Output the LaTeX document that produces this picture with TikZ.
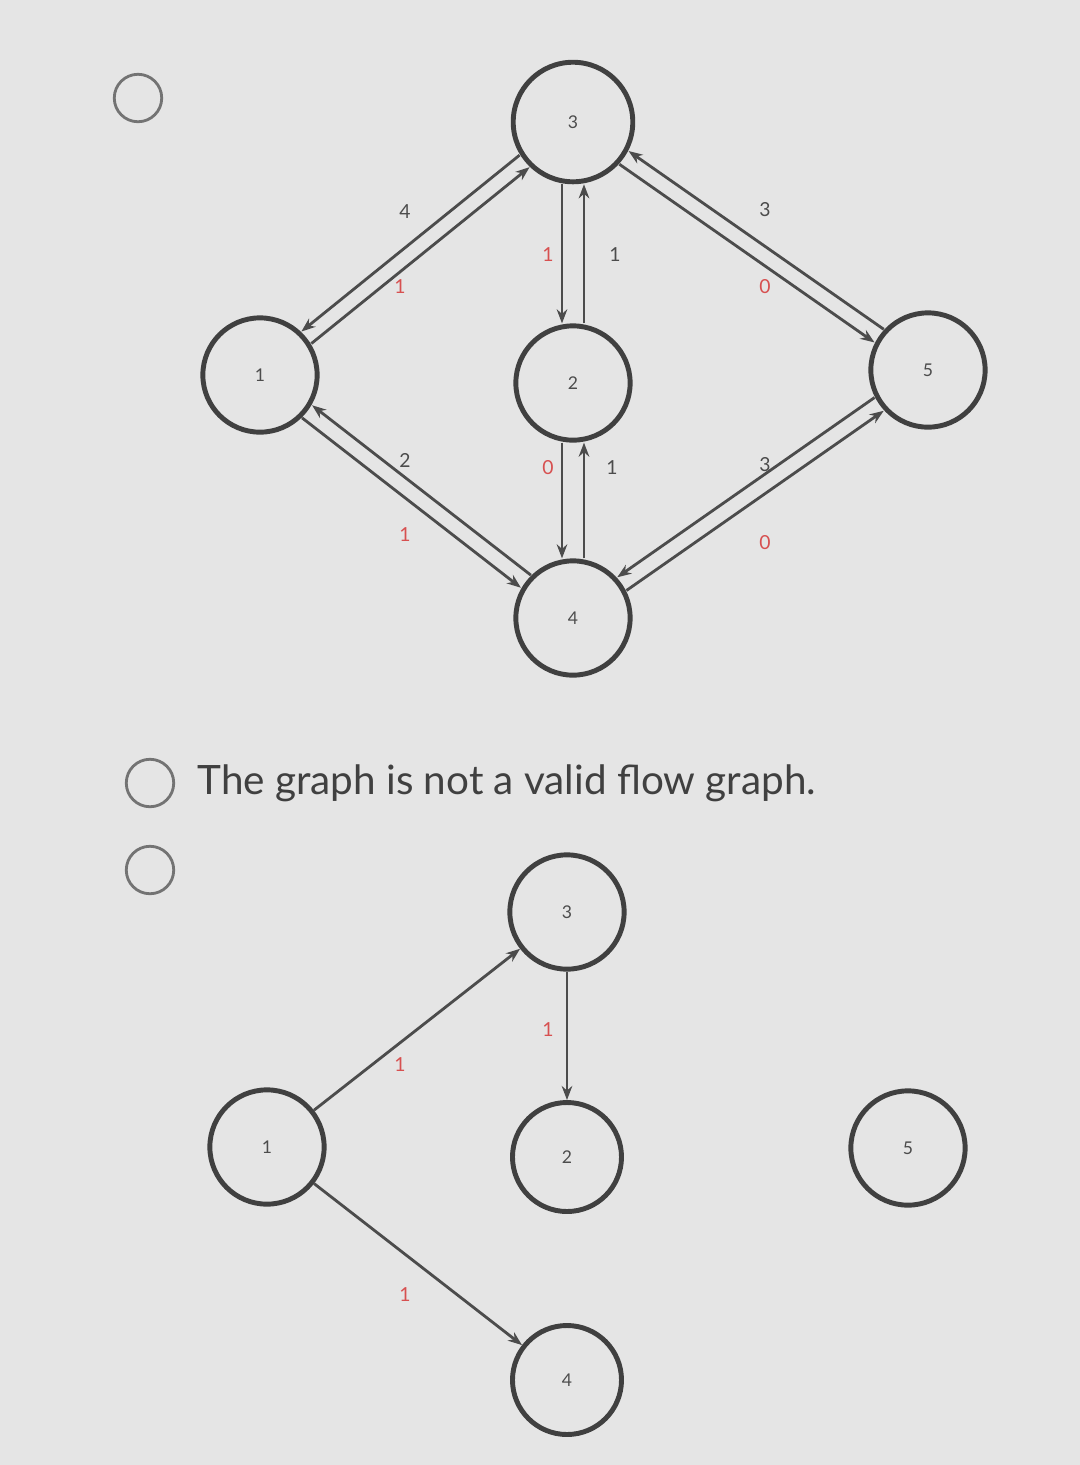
\documentclass[tikz,border=0pt]{standalone}
\usepackage{fontspec}
\setmainfont{Lato}
\usetikzlibrary{arrows.meta}
\begin{document}
\begin{tikzpicture}[x=0.01cm,y=-0.01cm,
 vtx/.style={circle,draw=black!75,line width=1.4pt,minimum size=32.5pt,inner sep=0,font=\fontsize{5}{6}\selectfont,text=black!70},
 radio/.style={circle,draw=black!55,line width=0.8pt,minimum size=13.5pt,inner sep=0},
 arr/.style={draw=black!70,line width=0.8pt,-{Stealth[length=4pt,width=3pt]}},
 lb/.style={font=\fontsize{5.5}{6}\selectfont,text=black!70},
 rl/.style={font=\fontsize{5.5}{6}\selectfont,text={rgb,255:red,215;green,80;blue,80}}]
\fill[black!10] (0,0) rectangle (1080,1465);
\useasboundingbox (0,0) rectangle (1080,1465);
\node[radio] (r1) at (138,98) {};
\node[radio] (r2) at (150,783) {};
\node[radio] (r3) at (150,870) {};
\node[anchor=west,font=\fontsize{11.5}{13}\selectfont,text=black!75] (txt) at (185,783) {The graph is not a valid flow graph.};
% top graph
\node[vtx,minimum size=34pt] (a3) at (573,122) {3};
\node[vtx] (a1) at (260,375) {1};
\node[vtx] (a2) at (573,383) {2};
\node[vtx] (a5) at (928,370) {5};
\node[vtx] (a4) at (573,618) {4};
\draw[arr,transform canvas={shift={(-5,-6)}}] (a3) -- (a1);
\draw[arr,transform canvas={shift={(5,6)}}] (a1) -- (a3);
\draw[arr,transform canvas={shift={(4.6,-6.6)}}] (a5) -- (a3);
\draw[arr,transform canvas={shift={(-4.6,6.6)}}] (a3) -- (a5);
\draw[arr,transform canvas={shift={(5,-6.3)}}] (a4) -- (a1);
\draw[arr,transform canvas={shift={(-5,6.3)}}] (a1) -- (a4);
\draw[arr,transform canvas={shift={(-4.6,-6.6)}}] (a5) -- (a4);
\draw[arr,transform canvas={shift={(4.6,6.6)}}] (a4) -- (a5);
\draw[arr,transform canvas={shift={(-11,0)}}] (a3) -- (a2);
\draw[arr,transform canvas={shift={(11,0)}}] (a2) -- (a3);
\draw[arr,transform canvas={shift={(-11,0)}}] (a2) -- (a4);
\draw[arr,transform canvas={shift={(11,0)}}] (a4) -- (a2);
\node[lb] (l1) at (405,212) {4};
\node[rl] (l2) at (400,287) {1};
\node[rl] (l3) at (548,255) {1};
\node[lb] (l4) at (615,255) {1};
\node[lb] (l5) at (765,210) {3};
\node[rl] (l6) at (765,287) {0};
\node[lb] (l7) at (405,460) {2};
\node[rl] (l8) at (405,535) {1};
\node[rl] (l9) at (548,468) {0};
\node[lb] (l10) at (612,468) {1};
\node[lb] (l11) at (765,465) {3};
\node[rl] (l12) at (765,543) {0};
% bottom graph
\node[vtx] (b3) at (567,912) {3};
\node[vtx] (b1) at (267,1147) {1};
\node[vtx,minimum size=31pt] (b2) at (567,1157) {2};
\node[vtx] (b5) at (908,1148) {5};
\node[vtx,minimum size=31pt] (b4) at (567,1380) {4};
\draw[arr] (b1) -- (b3);
\draw[arr] (b3) -- (b2);
\draw[arr] (b1) -- (b4);
\node[rl] (m1) at (400,1065) {1};
\node[rl] (m2) at (548,1030) {1};
\node[rl] (m3) at (405,1295) {1};
\end{tikzpicture}
\end{document}
